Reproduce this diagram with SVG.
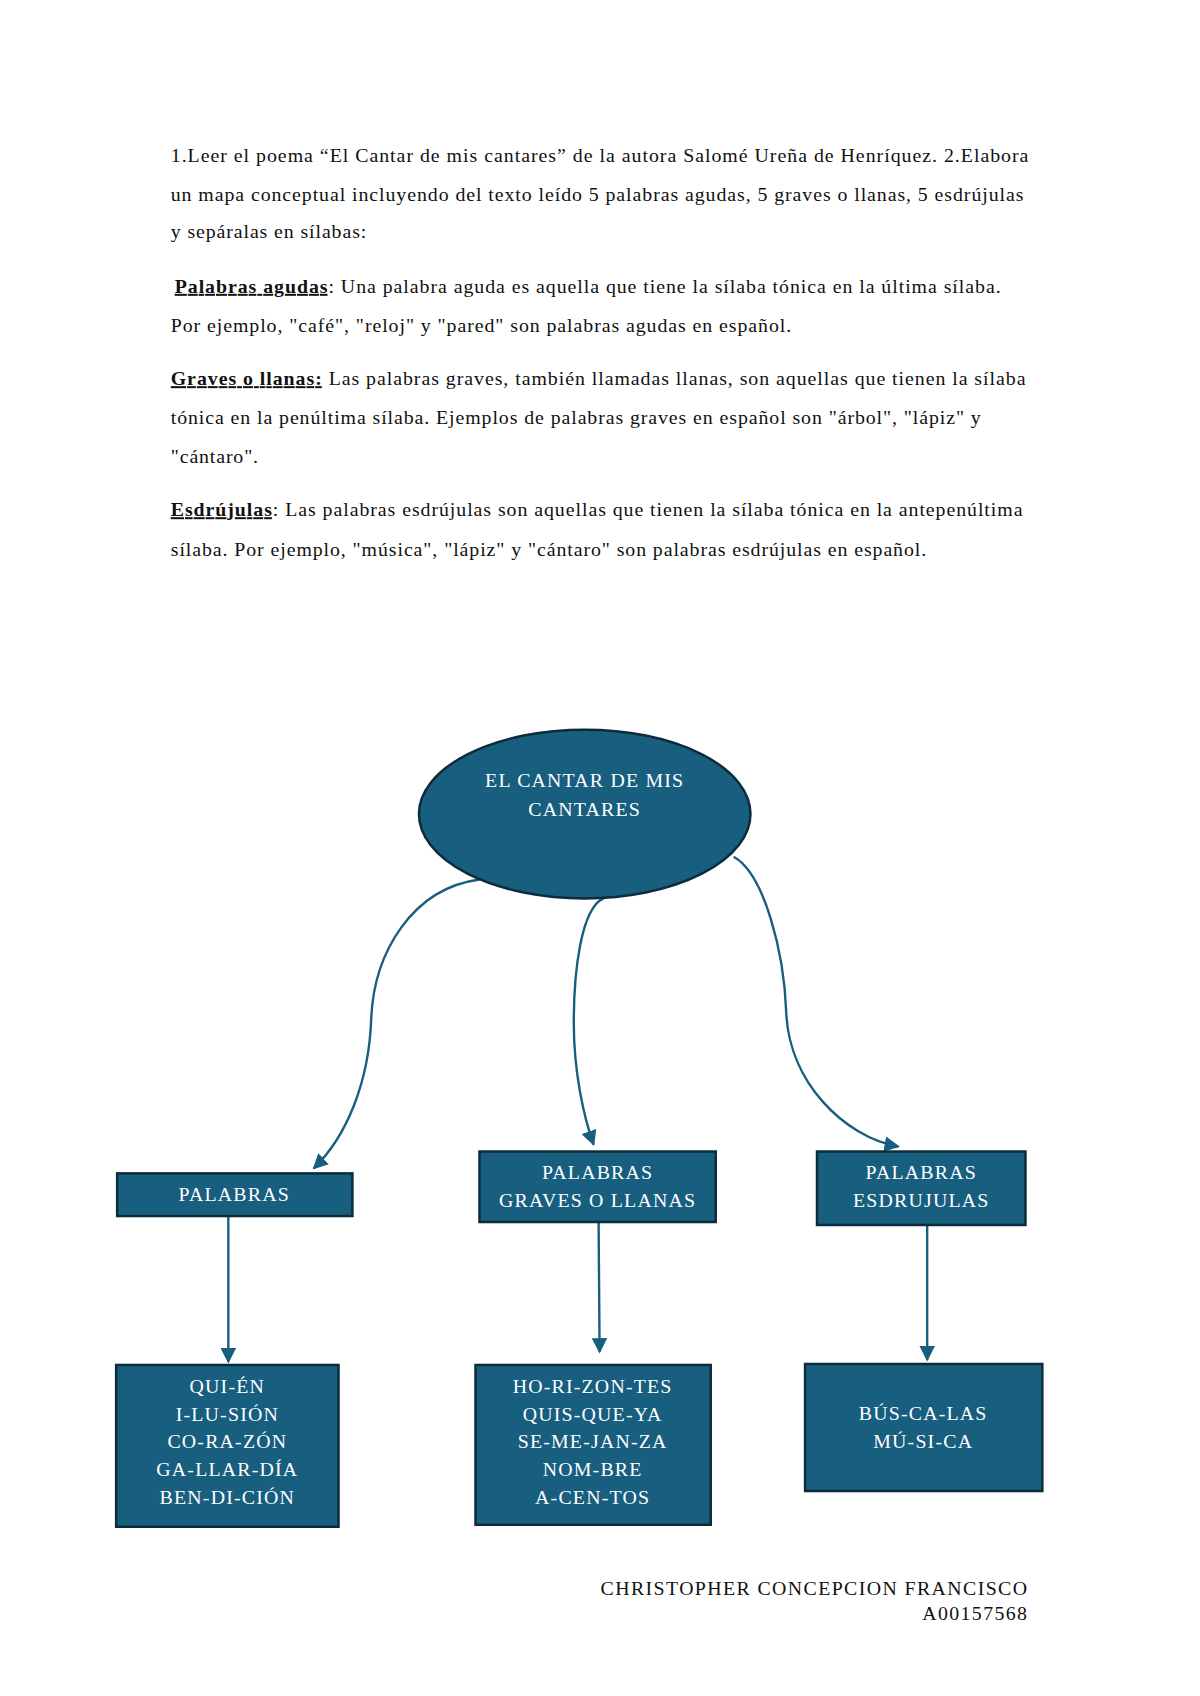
<svg xmlns="http://www.w3.org/2000/svg" width="1200" height="1696" viewBox="0 0 1200 1696">
<style>
.body{font-family:"Liberation Serif","Times New Roman",serif;font-size:20px;fill:#111}
.b{font-weight:bold;text-decoration:underline}
.node{fill:#175e7f;stroke:#0c2c3b;stroke-width:2.5}
.lbl{font-family:"Liberation Serif","Times New Roman",serif;font-size:20px;fill:#ffffff;text-anchor:middle;letter-spacing:1.2px}
.conn{fill:none;stroke:#175e7f;stroke-width:2.4}
.foot{font-family:"Liberation Serif","Times New Roman",serif;font-size:20px;fill:#111;text-anchor:end;letter-spacing:1.4px}
</style>
<defs>
<marker id="ah" viewBox="0 0 10 10" refX="9" refY="5" markerWidth="6.5" markerHeight="6.5" orient="auto" markerUnits="strokeWidth">
<path d="M0,0 L10,5 L0,10 z" fill="#175e7f"/>
</marker>
</defs>
<rect width="1200" height="1696" fill="#ffffff"/>
<g transform="scale(0.9927)">
<g id="text">
<text class="body" x="172" y="163" textLength="864" lengthAdjust="spacing">1.Leer el poema “El Cantar de mis cantares” de la autora Salomé Ureña de Henríquez. 2.Elabora</text>
<text class="body" x="172" y="202" textLength="859" lengthAdjust="spacing">un mapa conceptual incluyendo del texto leído 5 palabras agudas, 5 graves o llanas, 5 esdrújulas</text>
<text class="body" x="172" y="240" textLength="197" lengthAdjust="spacing">y sepáralas en sílabas:</text>
<text class="body" x="176" y="295" textLength="832" lengthAdjust="spacing"><tspan class="b">Palabras agudas</tspan>: Una palabra aguda es aquella que tiene la sílaba tónica en la última sílaba.</text>
<text class="body" x="172" y="334" textLength="625" lengthAdjust="spacing">Por ejemplo, "café", "reloj" y "pared" son palabras agudas en español.</text>
<text class="body" x="172" y="388" textLength="861" lengthAdjust="spacing"><tspan class="b">Graves o llanas:</tspan> Las palabras graves, también llamadas llanas, son aquellas que tienen la sílaba</text>
<text class="body" x="172" y="427" textLength="816" lengthAdjust="spacing">tónica en la penúltima sílaba. Ejemplos de palabras graves en español son "árbol", "lápiz" y</text>
<text class="body" x="172" y="466" textLength="88" lengthAdjust="spacing">"cántaro".</text>
<text class="body" x="172" y="520" textLength="858" lengthAdjust="spacing"><tspan class="b">Esdrújulas</tspan>: Las palabras esdrújulas son aquellas que tienen la sílaba tónica en la antepenúltima</text>
<text class="body" x="172" y="560" textLength="761" lengthAdjust="spacing">sílaba. Por ejemplo, "música", "lápiz" y "cántaro" son palabras esdrújulas en español.</text>
</g>
<g id="connectors">
<path class="conn" d="M483,886 C415,895 377,960 374,1025 C372,1090 349,1145 316,1177" marker-end="url(#ah)"/>
<path class="conn" d="M608,905 C585,915 578,980 578,1030 C578,1080 588,1125 598,1153" marker-end="url(#ah)"/>
<path class="conn" d="M739,863 C770,880 790,960 792,1020 C795,1090 850,1145 905,1155" marker-end="url(#ah)"/>
<path class="conn" d="M230,1225 L230,1372" marker-end="url(#ah)"/>
<path class="conn" d="M603,1231 L604,1362" marker-end="url(#ah)"/>
<path class="conn" d="M934,1234 L934,1370" marker-end="url(#ah)"/>
</g>
<g id="root">
<ellipse class="node" cx="589" cy="820" rx="167" ry="85"/>
<text class="lbl" x="589" y="793">EL CANTAR DE MIS</text>
<text class="lbl" x="589" y="822">CANTARES</text>
</g>
<g id="agudas">
<rect class="node" x="118" y="1182" width="237" height="43"/>
<text class="lbl" x="236" y="1210">PALABRAS</text>
</g>
<g id="graves">
<rect class="node" x="483" y="1160" width="238" height="71"/>
<text class="lbl" x="602" y="1188">PALABRAS</text>
<text class="lbl" x="602" y="1216">GRAVES O LLANAS</text>
</g>
<g id="esdrujulas">
<rect class="node" x="823" y="1160" width="210" height="74"/>
<text class="lbl" x="928" y="1188">PALABRAS</text>
<text class="lbl" x="928" y="1216">ESDRUJULAS</text>
</g>
<g id="agudas-list">
<rect class="node" x="117" y="1375" width="224" height="163"/>
<text class="lbl" x="229" y="1403">QUI-ÉN</text>
<text class="lbl" x="229" y="1431">I-LU-SIÓN</text>
<text class="lbl" x="229" y="1459">CO-RA-ZÓN</text>
<text class="lbl" x="229" y="1487">GA-LLAR-DÍA</text>
<text class="lbl" x="229" y="1515">BEN-DI-CIÓN</text>
</g>
<g id="graves-list">
<rect class="node" x="479" y="1375" width="237" height="161"/>
<text class="lbl" x="597" y="1403">HO-RI-ZON-TES</text>
<text class="lbl" x="597" y="1431">QUIS-QUE-YA</text>
<text class="lbl" x="597" y="1459">SE-ME-JAN-ZA</text>
<text class="lbl" x="597" y="1487">NOM-BRE</text>
<text class="lbl" x="597" y="1515">A-CEN-TOS</text>
</g>
<g id="esdrujulas-list">
<rect class="node" x="811" y="1374" width="239" height="128"/>
<text class="lbl" x="930" y="1430">BÚS-CA-LAS</text>
<text class="lbl" x="930" y="1459">MÚ-SI-CA</text>
</g>
<g id="footer">
<text class="foot" x="1036" y="1607">CHRISTOPHER CONCEPCION FRANCISCO</text>
<text class="foot" x="1036" y="1632">A00157568</text>
</g>
</g>
</svg>
